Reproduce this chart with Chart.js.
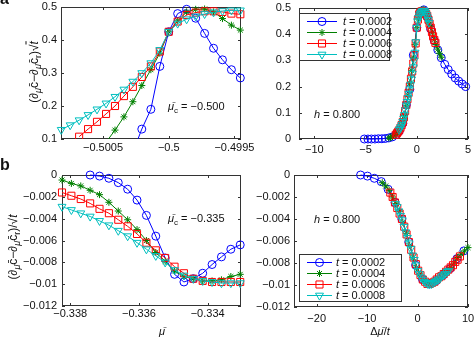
<!DOCTYPE html>
<html>
<head>
<meta charset="utf-8">
<script src="https://cdn.jsdelivr.net/npm/chart.js@4.4.1/dist/chart.umd.min.js"></script>
<style>
  html, body { margin: 0; padding: 0; background: #fff; }
  body { position: relative; width: 474px; height: 339px; overflow: hidden;
         font-family: "Liberation Sans", Arial, sans-serif; color: #111; }
  canvas { position: absolute; }
  .lbl { position: absolute; font-size: 11px; white-space: nowrap; line-height: 11px; }
  .lbl sub { font-size: 8px; vertical-align: -3px; line-height: 0; }
  .ytl { font-size: 12px; }
  .ytl sub { font-size: 9px; }
  .rot { transform: translate(-50%, -50%) rotate(-90deg); }
  .ctr { transform: translate(-50%, -50%); }
  .ol { text-decoration: overline; }
  .panel { position: absolute; font: bold 16px "Liberation Sans", Arial, sans-serif; line-height: 16px; }
</style>
</head>
<body>
<canvas id="aL" width="280" height="165" style="left:0;top:0"></canvas>
<canvas id="aR" width="224" height="165" style="left:250px;top:0"></canvas>
<canvas id="bL" width="280" height="174" style="left:0;top:165px"></canvas>
<canvas id="bR" width="224" height="174" style="left:250px;top:165px"></canvas>

<div class="panel" style="left:0;top:-9px">a</div>
<div class="panel" style="left:0;top:157px">b</div>

<div class="lbl ytl rot" style="left:34px;top:72px">(∂<sub><i>μ̄</i></sub>c̄−∂<sub><i>μ̄</i></sub>c̄<sub>r</sub>)√<span class="ol"><i>t</i></span></div>
<div class="lbl ytl rot" style="left:13px;top:247px">(∂<sub><i>μ̄</i></sub>c̄−∂<sub><i>μ̄</i></sub>c̄<sub>r</sub>)/√<i>t</i></div>

<div class="lbl" style="left:168px;top:101px"><i>μ̄</i><sub>c</sub> = −0.500</div>
<div class="lbl" style="left:168px;top:213px"><i>μ̄</i><sub>c</sub> = −0.335</div>
<div class="lbl" style="left:314px;top:109px"><i>h</i> = 0.800</div>
<div class="lbl" style="left:314px;top:214px"><i>h</i> = 0.800</div>

<div class="lbl ctr" style="left:162px;top:331px"><i>μ̄</i></div>
<div class="lbl ctr" style="left:380px;top:331px">Δ<i>μ̄</i>/<i>t</i></div>

<script>
// legend text, one per curve
const seriesLabels = ['0.0002', '0.0004', '0.0006', '0.0008'];

// ---- panel a, left: value vs mu (null = not plotted)
const aLeftMu = [-0.500818, -0.500750, -0.500682, -0.500614, -0.500546, -0.500477, -0.500409,
  -0.500341, -0.500273, -0.500205, -0.500136, -0.500068, -0.500000, -0.499932, -0.499864,
  -0.499795, -0.499727, -0.499659, -0.499591, -0.499523, -0.499455];
const aLeftBlue = [null, null, null, null, null, null, null, null, 0.06, 0.13, 0.19, 0.32, 0.425,
  0.48, 0.493, 0.466, 0.42, 0.375, 0.34, 0.31, 0.285];
const aLeftGreen = [null, null, null, null, null, 0.09, 0.127, 0.167, 0.213, 0.262, 0.31, 0.36, 0.425,
  0.458, 0.485, 0.493, 0.494, 0.485, 0.465, 0.445, 0.43];
const aLeftRed = [null, null, 0.107, 0.13, 0.152, 0.176, 0.2, 0.23, 0.258, 0.288, 0.32, 0.365, 0.425,
  0.456, 0.476, 0.483, 0.487, 0.487, 0.485, 0.48, 0.478];
const aLeftCyan = [0.128, 0.142, 0.157, 0.173, 0.19, 0.208, 0.228, 0.25, 0.274, 0.3, 0.33, 0.37, 0.425,
  0.45, 0.463, 0.472, 0.479, 0.484, 0.488, 0.49, 0.49];
const aLeftXTicks = [-0.5005, -0.5, -0.4995];
const aLeftYTicks = [0.1, 0.2, 0.3, 0.4, 0.5];

// ---- panel a, right: scaled x
const aRightBlueX = [-5.12, -4.77, -4.43, -4.09, -3.75, -3.41, -3.07, -2.73, -2.39, -2.05, -1.71, -1.36,
  -1.02, -0.68, -0.34, 0, 0.34, 0.68, 1.02, 1.36, 1.71, 2.05, 2.39, 2.73, 3.07, 3.41, 3.75, 4.09, 4.43, 4.77];
const aRightBlueY = [0, 0, 0, 0, 0.001, 0.001, 0.002, 0.004, 0.008, 0.016, 0.03, 0.06,
  0.13, 0.19, 0.32, 0.425, 0.48, 0.493, 0.466, 0.42, 0.375, 0.34, 0.31, 0.285, 0.265, 0.248, 0.233, 0.221, 0.21, 0.2];
const aRightGreenX = [-2.73, -2.56, -2.39, -2.22, -2.05, -1.88, -1.71, -1.53, -1.36, -1.19, -1.02, -0.85,
  -0.68, -0.51, -0.34, -0.17, 0, 0.17, 0.34, 0.51, 0.68, 0.85, 1.02, 1.19, 1.36, 1.53, 1.71, 1.88, 2.05, 2.22, 2.39];
const aRightGreenY = [0.004, 0.006, 0.009, 0.013, 0.018, 0.025, 0.034, 0.047, 0.063, 0.09, 0.127, 0.167,
  0.213, 0.262, 0.31, 0.36, 0.425, 0.458, 0.485, 0.493, 0.494, 0.485, 0.465, 0.445, 0.43, 0.405, 0.38, 0.36, 0.343, 0.327, 0.312];
const aRightRedX = [-2.05, -1.93, -1.82, -1.71, -1.59, -1.48, -1.36, -1.25, -1.14, -1.02, -0.91, -0.8,
  -0.68, -0.57, -0.45, -0.34, -0.23, -0.11, 0, 0.11, 0.23, 0.34, 0.45, 0.57, 0.68, 0.8, 0.91,
  1.02, 1.14, 1.25, 1.36, 1.48, 1.59, 1.71, 1.82];
const aRightRedY = [0.016, 0.022, 0.028, 0.034, 0.043, 0.053, 0.065, 0.083, 0.107, 0.13, 0.152, 0.176,
  0.2, 0.23, 0.258, 0.288, 0.32, 0.365, 0.425, 0.456, 0.476, 0.483, 0.487, 0.487, 0.485, 0.48, 0.478,
  0.47, 0.455, 0.44, 0.425, 0.408, 0.392, 0.378, 0.367];
const aRightCyanX = [-1.71, -1.62, -1.54, -1.45, -1.36, -1.28, -1.19, -1.11, -1.02, -0.94, -0.85, -0.77,
  -0.68, -0.6, -0.51, -0.43, -0.34, -0.26, -0.17, -0.085, 0, 0.085, 0.17, 0.26, 0.34, 0.43, 0.51,
  0.6, 0.68, 0.77, 0.85, 0.94, 1.02, 1.11, 1.19];
const aRightCyanY = [0.035, 0.041, 0.047, 0.055, 0.066, 0.078, 0.093, 0.11, 0.128, 0.142, 0.157, 0.173,
  0.19, 0.208, 0.228, 0.25, 0.274, 0.3, 0.33, 0.37, 0.425, 0.45, 0.463, 0.472, 0.479, 0.484, 0.488,
  0.49, 0.49, 0.488, 0.482, 0.474, 0.465, 0.455, 0.444];
const aRightXTicks = [-10, -5, 0, 5];
const aRightYTicks = [0, 0.1, 0.2, 0.3, 0.4, 0.5];

// ---- panel b, left
const bLeftMu = [-0.338240, -0.337967, -0.337694, -0.337421, -0.337148, -0.336875, -0.336602,
  -0.336329, -0.336056, -0.335783, -0.335510, -0.335237, -0.334964, -0.334691, -0.334418,
  -0.334145, -0.333872, -0.333599, -0.333326, -0.333053];
const bLeftBlue = [null, null, null, 0, -0.0001, -0.0003, -0.0007, -0.0013, -0.0023, -0.0037, -0.0056,
  -0.0076, -0.0091, -0.0098, -0.0095, -0.009, -0.0082, -0.0075, -0.0068, -0.0064];
const bLeftGreen = [-0.00046, -0.00077, -0.001, -0.0014, -0.0018, -0.0025, -0.0033, -0.0041, -0.005,
  -0.006, -0.0071, -0.0079, -0.0088, -0.0093, -0.0095, -0.0097, -0.0097, -0.0096, -0.0093, -0.0091];
const bLeftRed = [-0.0016, -0.0019, -0.0022, -0.0026, -0.0031, -0.0035, -0.0041, -0.0047, -0.0054,
  -0.0062, -0.0069, -0.0076, -0.0084, -0.009, -0.0095, -0.0097, -0.0098, -0.0098, -0.0098, -0.0098];
const bLeftCyan = [-0.0029, -0.0032, -0.0035, -0.0038, -0.0042, -0.0046, -0.0051, -0.0056, -0.0062,
  -0.0068, -0.0074, -0.008, -0.0087, -0.0092, -0.0095, -0.0097, -0.0098, -0.0099, -0.0099, -0.0099];
const bLeftXTicks = [-0.338, -0.336, -0.334];
const bYTicks = [0, -0.002, -0.004, -0.006, -0.008, -0.01, -0.012];

// ---- panel b, right
const bRightBlueX = [-11.3, -9.93, -8.57, -7.2, -5.84, -4.47, -3.11, -1.74, -0.38, 0.99, 2.35, 3.72,
  5.08, 6.45, 7.81, 9.18];
const bRightBlueY = [0, -0.0001, -0.0003, -0.0006, -0.0013, -0.0025, -0.004, -0.0061, -0.0082, -0.0095,
  -0.0099, -0.0096, -0.0091, -0.0085, -0.0076, -0.0069];
const bRightGreenX = [-7.0, -6.32, -5.64, -4.96, -4.28, -3.6, -2.92, -2.24, -1.56, -0.88, -0.2, 0.48,
  1.16, 1.84, 2.52, 3.2, 3.88, 4.56, 5.24, 5.92, 6.6, 7.28, 7.96, 8.64, 9.32, 10.0];
const bRightGreenY = [-0.0007, -0.001, -0.0014, -0.002, -0.0026, -0.0033, -0.0043, -0.0053, -0.0064,
  -0.0075, -0.0084, -0.009, -0.0096, -0.0098, -0.0099, -0.0097, -0.0095, -0.0093, -0.009, -0.0087,
  -0.0084, -0.008, -0.0075, -0.0072, -0.0069, -0.0066];
const bRightRedX = [-5.4, -4.94, -4.48, -4.02, -3.56, -3.1, -2.64, -2.18, -1.72, -1.26, -0.8, -0.34,
  0.12, 0.58, 1.04, 1.5, 1.96, 2.42, 2.88, 3.34, 3.8, 4.26, 4.72, 5.18, 5.64, 6.1, 6.56, 7.02, 7.48, 7.94, 8.4];
const bRightRedY = [-0.0016, -0.002, -0.0025, -0.003, -0.0035, -0.004, -0.0047, -0.0054, -0.0061,
  -0.0068, -0.0075, -0.0081, -0.0087, -0.0091, -0.0095, -0.0097, -0.0099, -0.0099, -0.0098, -0.0097,
  -0.0095, -0.0093, -0.0092, -0.009, -0.0088, -0.0086, -0.0084, -0.0082, -0.0079, -0.0077, -0.0074];
const bRightCyanX = [-4.4, -4.06, -3.72, -3.38, -3.04, -2.7, -2.36, -2.02, -1.68, -1.34, -1.0, -0.66,
  -0.32, 0.02, 0.36, 0.7, 1.04, 1.38, 1.72, 2.06, 2.4, 2.74, 3.08, 3.42, 3.76, 4.1, 4.44, 4.78,
  5.12, 5.46, 5.8, 6.14];
const bRightCyanY = [-0.0026, -0.0029, -0.0033, -0.0037, -0.0041, -0.0047, -0.0052, -0.0057, -0.0062,
  -0.0067, -0.0073, -0.0077, -0.0082, -0.0087, -0.009, -0.0093, -0.0095, -0.0097, -0.0098, -0.0099,
  -0.0099, -0.0099, -0.0098, -0.0097, -0.0096, -0.0095, -0.0094, -0.0092, -0.0091, -0.009, -0.0088, -0.0087];
const bRightXTicks = [-20, -10, 0, 10];

// marker / colour per curve (matlab look)
const styles = [
  { color: '#0000ff', pointStyle: 'circle', radius: 4, rotation: 0 },
  { color: '#008000', pointStyle: 'star', radius: 3.5, rotation: 0 },
  { color: '#ff0000', pointStyle: 'rect', radius: 5, rotation: 0 },
  { color: '#00bfbf', pointStyle: 'triangle', radius: 4.6, rotation: 180 }
];

const FONT = '"Liberation Sans", Arial, sans-serif';
Chart.defaults.font.family = FONT;
Chart.defaults.font.size = 11;
Chart.defaults.color = '#111';

function pts(xs, ys) {
  const out = [];
  xs.forEach((x, i) => {
    if (ys[i] !== null && ys[i] !== undefined) out.push({ x: x, y: ys[i] });
  });
  return out;
}

function fmt(v) {
  if (v === 0) return '0';
  return String(v).replace('-', '\u2212');
}

function marker(ctx, st, x, y) {
  const opts = { pointStyle: st.pointStyle, radius: st.radius, rotation: st.rotation, borderWidth: 1 };
  ctx.fillStyle = 'rgba(0,0,0,0)';
  ctx.strokeStyle = st.color;
  ctx.lineWidth = 1;
  Chart.helpers.drawPoint(ctx, opts, x, y);
}

// box, inward ticks and the legend, drawn like matlab axes
const matlabAxes = {
  id: 'matlabAxes',
  beforeDatasetsDraw(chart) {
    const { ctx, chartArea: ca, scales } = chart;
    ctx.save();
    ctx.strokeStyle = '#333';
    ctx.lineWidth = 1;
    ctx.strokeRect(ca.left + 0.5, ca.top + 0.5, ca.right - ca.left - 1, ca.bottom - ca.top - 1);
    ctx.beginPath();
    scales.x.ticks.forEach(t => {
      const p = Math.round(scales.x.getPixelForValue(t.value)) + 0.5;
      ctx.moveTo(p, ca.bottom); ctx.lineTo(p, ca.bottom - 3);
      ctx.moveTo(p, ca.top); ctx.lineTo(p, ca.top + 3);
    });
    scales.y.ticks.forEach(t => {
      const p = Math.round(scales.y.getPixelForValue(t.value)) + 0.5;
      ctx.moveTo(ca.left, p); ctx.lineTo(ca.left + 3, p);
      ctx.moveTo(ca.right, p); ctx.lineTo(ca.right - 3, p);
    });
    ctx.stroke();
    ctx.restore();
  },
  afterDatasetsDraw(chart, args, opts) {
    const L = opts.legend;
    if (!L) return;
    const { ctx, chartArea: ca } = chart;
    const x0 = Math.round(ca.left + L.dx), y0 = Math.round(ca.top + L.dy);
    ctx.save();
    ctx.fillStyle = '#fff';
    ctx.fillRect(x0, y0, L.w, L.h);
    ctx.strokeStyle = '#333';
    ctx.lineWidth = 1;
    ctx.strokeRect(x0 + 0.5, y0 + 0.5, L.w, L.h);
    seriesLabels.forEach((lab, i) => {
      const st = styles[i];
      const y = Math.round(y0 + L.row0 + i * L.rowH) + 0.5;
      ctx.strokeStyle = st.color;
      ctx.beginPath();
      ctx.moveTo(x0 + L.l1, y); ctx.lineTo(x0 + L.l2, y);
      ctx.stroke();
      marker(ctx, st, x0 + (L.l1 + L.l2) / 2, y);
      ctx.fillStyle = '#111';
      ctx.textBaseline = 'middle';
      ctx.font = 'italic 11px ' + FONT;
      ctx.fillText('t', x0 + L.tx, y);
      const w = ctx.measureText('t').width;
      ctx.font = '11px ' + FONT;
      ctx.fillText(' = ' + lab, x0 + L.tx + w, y);
    });
    ctx.restore();
  }
};

function makeChart(id, c) {
  const datasets = c.ys.map((ys, i) => ({
    data: pts(c.xs[i], ys),
    borderColor: styles[i].color,
    backgroundColor: 'rgba(0,0,0,0)',
    pointBorderColor: styles[i].color,
    pointBackgroundColor: 'rgba(0,0,0,0)',
    pointStyle: styles[i].pointStyle,
    pointRadius: styles[i].radius,
    pointRotation: styles[i].rotation,
    pointBorderWidth: 1,
    borderWidth: 1,
    tension: 0,
    fill: false,
    order: 4 - i,
    clip: c.clip
  }));
  return new Chart(document.getElementById(id), {
    type: 'line',
    data: { datasets: datasets },
    plugins: [matlabAxes],
    options: {
      responsive: false,
      animation: false,
      devicePixelRatio: 1,
      events: [],
      layout: { padding: c.pad },
      plugins: { legend: { display: false }, tooltip: { enabled: false }, matlabAxes: { legend: c.legend } },
      scales: {
        x: {
          type: 'linear', min: c.xMin, max: c.xMax,
          grid: { display: false, drawTicks: false }, border: { display: false },
          ticks: { padding: c.xPad, autoSkip: false, maxRotation: 0, callback: fmt },
          afterBuildTicks: s => { s.ticks = c.xTicks.map(v => ({ value: v })); },
          afterFit: s => { s.height = c.xH; s.paddingLeft = 0; s.paddingRight = 0; }
        },
        y: {
          type: 'linear', min: c.yMin, max: c.yMax,
          grid: { display: false, drawTicks: false }, border: { display: false },
          ticks: { padding: c.yPad, autoSkip: false, callback: fmt },
          afterBuildTicks: s => { s.ticks = c.yTicks.map(v => ({ value: v })); },
          afterFit: s => { s.width = c.yW; s.paddingTop = 0; s.paddingBottom = 0; }
        }
      }
    }
  });
}

makeChart('aL', {
  xs: [aLeftMu, aLeftMu, aLeftMu, aLeftMu],
  ys: [aLeftBlue, aLeftGreen, aLeftRed, aLeftCyan],
  xMin: -0.50082, xMax: -0.49945, yMin: 0.1, yMax: 0.5,
  xTicks: aLeftXTicks, yTicks: aLeftYTicks,
  pad: { left: 0, top: 7, right: 39, bottom: 0 }, yW: 61, xH: 26, xPad: 2, yPad: 4,
  clip: { left: false, top: false, right: false, bottom: 0 }
});

makeChart('aR', {
  xs: [aRightBlueX, aRightGreenX, aRightRedX, aRightCyanX],
  ys: [aRightBlueY, aRightGreenY, aRightRedY, aRightCyanY],
  xMin: -11.5, xMax: 5, yMin: 0, yMax: 0.5,
  xTicks: aRightXTicks, yTicks: aRightYTicks,
  pad: { left: 0, top: 8, right: 6, bottom: 0 }, yW: 49, xH: 26, xPad: 4, yPad: 8,
  clip: false,
  legend: { dx: 0, dy: 5, w: 90, h: 47, row0: 8, rowH: 11, l1: 8, l2: 38, tx: 44 }
});

makeChart('bL', {
  xs: [bLeftMu, bLeftMu, bLeftMu, bLeftMu],
  ys: [bLeftBlue, bLeftGreen, bLeftRed, bLeftCyan],
  xMin: -0.33824, xMax: -0.33303, yMin: -0.012, yMax: 0,
  xTicks: bLeftXTicks, yTicks: bYTicks,
  pad: { left: 0, top: 10, right: 39, bottom: 0 }, yW: 62, xH: 33, xPad: 1, yPad: 5,
  clip: false
});

makeChart('bR', {
  xs: [bRightBlueX, bRightGreenX, bRightRedX, bRightCyanX],
  ys: [bRightBlueY, bRightGreenY, bRightRedY, bRightCyanY],
  xMin: -24.5, xMax: 10, yMin: -0.012, yMax: 0,
  xTicks: bRightXTicks, yTicks: bYTicks,
  pad: { left: 0, top: 10, right: 6, bottom: 0 }, yW: 44, xH: 32, xPad: 5, yPad: 4,
  clip: false,
  legend: { dx: 5, dy: 79, w: 102, h: 47, row0: 8, rowH: 11, l1: 8, l2: 33, tx: 37 }
});
</script>
</body>
</html>
